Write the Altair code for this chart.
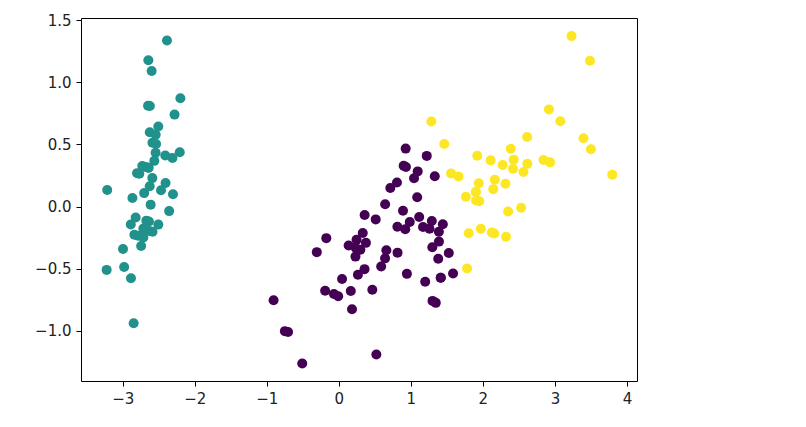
import altair as alt
import pandas as pd

pc1 = [
    -2.684, -2.714, -2.889, -2.745, -2.729, -2.281, -2.821, -2.626, -2.886, -2.673,
    -2.507, -2.613, -2.786, -3.224, -2.645, -2.386, -2.624, -2.648, -2.200, -2.588,
    -2.310, -2.544, -3.216, -2.303, -2.356, -2.507, -2.469, -2.562, -2.640, -2.632,
    -2.587, -2.410, -2.649, -2.599, -2.637, -2.866, -2.625, -2.801, -2.981, -2.590,
    -2.770, -2.849, -2.997, -2.406, -2.209, -2.714, -2.538, -2.839, -2.543, -2.703,
    1.285, 0.932, 1.464, 0.183, 1.088, 0.642, 1.095, -0.749, 1.044, -0.009,
    -0.508, 0.512, 0.265, 0.985, -0.174, 0.928, 0.660, 0.236, 0.945, 0.045,
    1.116, 0.358, 1.298, 0.922, 0.715, 0.900, 1.332, 1.558, 0.813, -0.306,
    -0.068, -0.190, 0.136, 1.380, 0.588, 0.807, 1.221, 0.815, 0.246, 0.166,
    0.465, 0.891, 0.231, -0.705, 0.357, 0.332, 0.376, 0.643, -0.906, 0.299,
    2.531, 1.415, 2.617, 1.972, 2.350, 3.397, 0.521, 2.933, 2.321, 2.917,
    1.662, 1.803, 2.166, 1.346, 1.586, 1.904, 1.950, 3.487, 3.796, 1.301,
    2.428, 1.199, 3.500, 1.389, 2.275, 2.614, 1.259, 1.291, 2.124, 2.388,
    2.842, 3.231, 2.159, 1.444, 1.781, 3.076, 2.144, 1.905, 1.169, 2.108,
    2.314, 1.922, 1.415, 2.563, 2.419, 1.944, 1.527, 1.764, 1.901, 1.390,
]

pc2 = [
    0.319, -0.177, -0.145, -0.318, 0.327, 0.741, -0.089, 0.163, -0.578, -0.114,
    0.645, 0.015, -0.235, -0.511, 1.179, 1.338, 0.811, 0.312, 0.873, 0.514,
    0.391, 0.433, 0.133, 0.099, -0.037, -0.146, 0.131, 0.368, 0.312, -0.197,
    -0.204, 0.411, 0.813, 1.093, -0.121, 0.069, 0.599, 0.269, -0.488, 0.229,
    0.264, -0.941, -0.342, 0.189, 0.437, -0.250, 0.504, -0.228, 0.579, 0.108,
    0.685, 0.318, 0.504, -0.828, 0.075, -0.418, 0.283, -1.005, 0.228, -0.723,
    -1.266, -0.104, -0.550, -0.125, -0.255, 0.467, -0.353, -0.334, -0.543, -0.584,
    -0.085, -0.069, -0.328, -0.183, 0.149, 0.329, 0.244, 0.267, -0.163, -0.368,
    -0.705, -0.680, -0.314, -0.421, -0.484, 0.194, 0.408, -0.372, -0.269, -0.682,
    -0.671, -0.034, -0.404, -1.012, -0.505, -0.213, -0.293, 0.018, -0.756, -0.349,
    -0.010, -0.575, 0.344, -0.180, -0.040, 0.551, -1.193, 0.356, -0.244, 0.783,
    0.242, -0.216, 0.216, -0.777, -0.540, 0.119, 0.042, 1.176, 0.257, -0.761,
    0.378, -0.606, 0.461, -0.204, 0.335, 0.561, -0.180, -0.117, -0.210, 0.465,
    0.375, 1.374, -0.217, -0.143, -0.500, 0.688, 0.140, 0.049, -0.165, 0.372,
    0.184, 0.409, -0.575, 0.278, 0.305, 0.188, -0.375, 0.079, 0.117, -0.283,
]

cluster = (
    [1] * 50
    + [2, 0, 2, 0, 0, 0, 0, 0, 0, 0,
       0, 0, 0, 0, 0, 0, 0, 0, 0, 0,
       0, 0, 0, 0, 0, 0, 0, 2, 0, 0,
       0, 0, 0, 0, 0, 0, 0, 0, 0, 0,
       0, 0, 0, 0, 0, 0, 0, 0, 0, 0]
    + [2, 0, 2, 2, 2, 2, 0, 2, 2, 2,
       2, 2, 2, 0, 0, 2, 2, 2, 2, 0,
       2, 0, 2, 0, 2, 2, 0, 0, 2, 2,
       2, 2, 2, 0, 2, 2, 2, 2, 0, 2,
       2, 2, 0, 2, 2, 2, 0, 2, 2, 0]
)

colors = ["#440154", "#21918c", "#fde725"]
x_ticks = [-3, -2, -1, 0, 1, 2, 3, 4]
y_ticks = [-1.0, -0.5, 0.0, 0.5, 1.0, 1.5]

df = pd.DataFrame({"pc1": pc1, "pc2": pc2, "cluster": cluster})

axis_style = dict(title=None, grid=False, domain=False, tickSize=5, tickColor="#000",
                  tickWidth=1, labelFontSize=15, labelColor="#222", labelPadding=5,
                  labelFont="DejaVu Sans")

chart = alt.Chart(df).mark_circle(size=100, opacity=1).encode(
    x=alt.X("pc1:Q", scale=alt.Scale(domain=[-3.58, 4.14], nice=False, zero=False),
            axis=alt.Axis(values=x_ticks, format="d", **axis_style)),
    y=alt.Y("pc2:Q", scale=alt.Scale(domain=[-1.407, 1.52], nice=False, zero=False),
            axis=alt.Axis(values=y_ticks, format=".1f", **axis_style)),
    color=alt.Color("cluster:N", scale=alt.Scale(domain=[0, 1, 2], range=colors), legend=None),
).properties(
    width=556,
    height=363,
    autosize=alt.AutoSizeParams(type="none"),
    padding={"left": 73, "top": 10, "right": 10, "bottom": 40},
).configure_view(
    stroke="#000", strokeWidth=1
)

chart.save("out.html", embed_options={"renderer": "svg", "actions": False})
